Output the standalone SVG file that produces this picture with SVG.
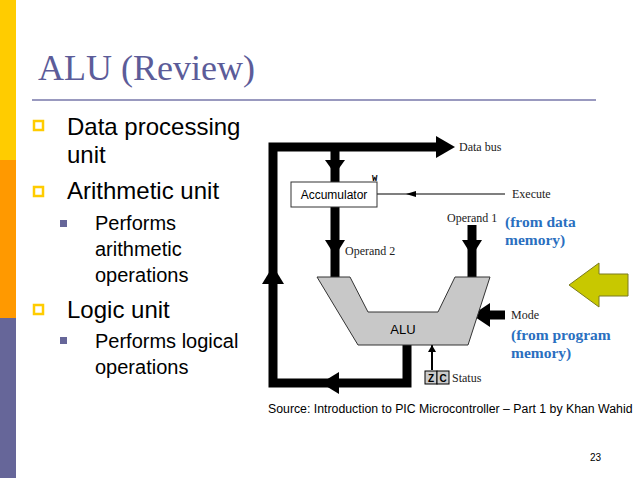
<svg xmlns="http://www.w3.org/2000/svg" width="638" height="478" viewBox="0 0 638 478">
<style>
.b{font-family:"Liberation Sans",Arial,sans-serif;fill:#000}
.s{font-family:"Liberation Serif","Times New Roman",serif;font-size:12px;fill:#222}
.blue{font-family:"Liberation Serif",serif;font-size:15.5px;font-weight:bold;fill:#2a6fc0}
.w{stroke:#000;stroke-width:9;fill:none}
</style>
<rect width="638" height="478" fill="#fff"/>
<rect x="0" y="0" width="16" height="160" fill="#ffcc00"/>
<rect x="0" y="160" width="16" height="158" fill="#ff9900"/>
<rect x="0" y="318" width="16" height="160" fill="#666699"/>
<text x="38" y="80" font-family="Liberation Serif,serif" font-size="36" fill="#5c5c99">ALU (Review)</text>
<line x1="32" y1="100" x2="596" y2="100" stroke="#7777aa" stroke-width="1.5"/>
<g id="bullets">
<rect x="34" y="121" width="9" height="9" fill="none" stroke="#ffcc00" stroke-width="2.5"/>
<rect x="34" y="187" width="9" height="9" fill="none" stroke="#ffcc00" stroke-width="2.5"/>
<rect x="34" y="305" width="9" height="9" fill="none" stroke="#ffcc00" stroke-width="2.5"/>
<rect x="60" y="220" width="7" height="7" fill="#666699"/>
<rect x="60" y="337" width="7" height="7" fill="#666699"/>
<text class="b" font-size="24"><tspan x="67" y="135">Data processing</tspan><tspan x="67" y="163">unit</tspan><tspan x="67" y="199">Arithmetic unit</tspan><tspan x="67" y="318">Logic unit</tspan></text>
<text class="b" font-size="20"><tspan x="95" y="230">Performs</tspan><tspan x="95" y="256">arithmetic</tspan><tspan x="95" y="282">operations</tspan><tspan x="95" y="348">Performs logical</tspan><tspan x="95" y="374">operations</tspan></text>
</g>
<g id="connectors">
<polyline class="w" points="407,345 407,383 273,383 273,147 438,147"/>
<polygon points="436,136 455,147 436,158"/>
<polygon points="262,284 273,266 284,284"/>
<polygon points="339,372 321,383 339,394"/>
<line class="w" x1="335" y1="147" x2="335" y2="182"/>
<polygon points="325,160 345,160 335,174"/>
<line class="w" x1="335" y1="207" x2="335" y2="278"/>
<polygon points="325,240 345,240 335,256"/>
<line class="w" x1="472" y1="225" x2="472" y2="278"/>
<polygon points="462,240 482,240 472,256"/>
<line x1="377" y1="194" x2="505" y2="194" stroke="#000" stroke-width="1.2"/>
<polygon points="406,194 416,191 416,197"/>
<line class="w" x1="505" y1="315" x2="488" y2="315"/>
<polygon points="490,303 490,327 472,315"/>
<line x1="432" y1="345" x2="432" y2="370" stroke="#000" stroke-width="2"/>
<polygon points="428,352 436,352 432,345"/>
</g>
<g id="acc">
<rect x="291" y="182" width="86" height="25" fill="#fff" stroke="#333" stroke-width="1"/>
<text class="b" x="334" y="199" font-size="12" text-anchor="middle">Accumulator</text>
<text x="372" y="181" font-family="Liberation Mono,monospace" font-size="9" font-weight="bold">W</text>
</g>
<g id="alu">
<polygon points="317,277 350,277 368,312 438,312 455,277 490,277 468,345 358,345" fill="#c8c8c8" stroke="#333" stroke-width="1"/>
<text class="b" x="403" y="334" font-size="13" text-anchor="middle">ALU</text>
</g>
<g id="status">
<rect x="425" y="371" width="12" height="13" fill="#ccc" stroke="#000"/>
<rect x="437" y="371" width="12" height="13" fill="#ccc" stroke="#000"/>
<text x="431" y="382" font-family="Liberation Sans,sans-serif" font-size="10" font-weight="bold" text-anchor="middle">Z</text>
<text x="443" y="382" font-family="Liberation Sans,sans-serif" font-size="10" font-weight="bold" text-anchor="middle">C</text>
</g>
<text class="s" x="459" y="151">Data bus</text>
<text class="s" x="512" y="198">Execute</text>
<text class="s" x="447" y="222">Operand 1</text>
<text class="s" x="345" y="255">Operand 2</text>
<text class="s" x="511" y="319">Mode</text>
<text class="s" x="452" y="382">Status</text>
<text class="blue"><tspan x="505" y="227">(from data</tspan><tspan x="505" y="245">memory)</tspan><tspan x="511" y="340">(from program</tspan><tspan x="511" y="358">memory)</tspan></text>
<polygon id="yarrow" points="569,285 599,263 599,274 628,274 628,296 599,296 599,307" fill="#c8c800" stroke="#7a7a20" stroke-width="1"/>
<text x="268" y="413" font-family="Liberation Sans,sans-serif" font-size="12.3">Source: Introduction to PIC Microcontroller – Part 1 by Khan Wahid</text>
<text x="590" y="461" font-family="Liberation Sans,sans-serif" font-size="10">23</text>
</svg>
